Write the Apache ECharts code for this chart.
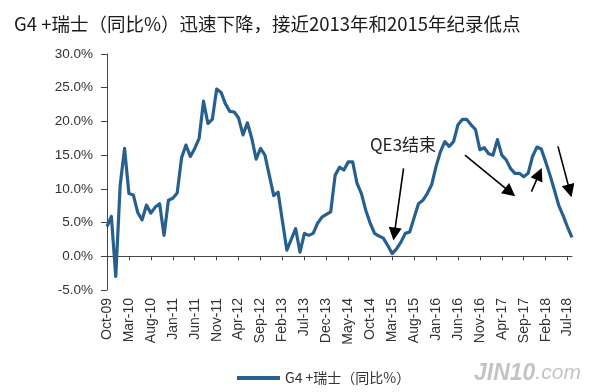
<!DOCTYPE html>
<html><head><meta charset="utf-8">
<script src="https://cdn.jsdelivr.net/npm/echarts@6/dist/echarts.min.js"></script>
<style>html,body{margin:0;padding:0;background:#fff}#c{width:600px;height:392px}</style>
</head><body><div id="c"></div>
<script>
const titleText = 'G4 +瑞士（同比%）迅速下降，接近2013年和2015年纪录低点';
const seriesName = 'G4 +瑞士（同比%）';
const categories = [
 'Oct-09','Nov-09','Dec-09',
 'Jan-10','Feb-10','Mar-10','Apr-10','May-10','Jun-10','Jul-10','Aug-10','Sep-10','Oct-10','Nov-10','Dec-10',
 'Jan-11','Feb-11','Mar-11','Apr-11','May-11','Jun-11','Jul-11','Aug-11','Sep-11','Oct-11','Nov-11','Dec-11',
 'Jan-12','Feb-12','Mar-12','Apr-12','May-12','Jun-12','Jul-12','Aug-12','Sep-12','Oct-12','Nov-12','Dec-12',
 'Jan-13','Feb-13','Mar-13','Apr-13','May-13','Jun-13','Jul-13','Aug-13','Sep-13','Oct-13','Nov-13','Dec-13',
 'Jan-14','Feb-14','Mar-14','Apr-14','May-14','Jun-14','Jul-14','Aug-14','Sep-14','Oct-14','Nov-14','Dec-14',
 'Jan-15','Feb-15','Mar-15','Apr-15','May-15','Jun-15','Jul-15','Aug-15','Sep-15','Oct-15','Nov-15','Dec-15',
 'Jan-16','Feb-16','Mar-16','Apr-16','May-16','Jun-16','Jul-16','Aug-16','Sep-16','Oct-16','Nov-16','Dec-16',
 'Jan-17','Feb-17','Mar-17','Apr-17','May-17','Jun-17','Jul-17','Aug-17','Sep-17','Oct-17','Nov-17','Dec-17',
 'Jan-18','Feb-18','Mar-18','Apr-18','May-18','Jun-18','Jul-18','Aug-18'
];
const values = [
 4.4, 5.9, -3.0,
 10.5, 16.0, 9.3, 9.1, 6.5, 5.4, 7.6, 6.4, 7.3, 7.8, 3.1, 8.3,
 8.6, 9.4, 14.6, 16.5, 14.8, 16.0, 17.5, 23.0, 19.7, 20.3, 24.8, 24.3,
 22.6, 21.5, 21.4, 20.5, 18.0, 19.8, 17.5, 14.4, 16.0, 15.0, 12.0, 9.0,
 9.5, 5.2, 0.9, 2.5, 4.1, 0.6, 3.4, 3.1, 3.4, 4.9, 5.8, 6.2,
 6.6, 12.0, 13.2, 12.8, 14.0, 14.0, 10.8, 9.3, 6.8, 4.9, 3.4, 3.0,
 2.7, 1.6, 0.4, 1.1, 2.1, 3.4, 3.6, 5.7, 7.8, 8.3, 9.3, 10.6,
 13.3, 15.5, 17.0, 16.3, 17.0, 19.5, 20.3, 20.3, 19.5, 18.8, 15.8, 16.1,
 15.2, 15.0, 17.3, 15.0, 14.3, 13.0, 12.3, 12.3, 11.8, 12.3, 14.8, 16.2,
 15.9, 14.0, 12.0, 9.8, 7.5, 6.0, 4.3, 2.8
];
const yMin = -5, yMax = 30, yStep = 5;
const annotationLabel = 'QE3结束';
// annotation arrows: [start, end] in (month index, % value)
const arrowStarts = [[67.6, 13.05], [81.6, 15.0], [96.75, 9.6], [102.8, 16.3]];
const arrowEnds   = [[65.5, 3.3],  [91.9, 9.5],  [98.5, 12.2], [105.5, 9.7]];

const chart = echarts.init(document.getElementById('c'), null, {renderer: 'canvas'});
const latin = 'Liberation Sans, Arial, sans-serif';
const cjk = '"Noto Sans CJK SC", sans-serif';
chart.setOption({
  animation: false,
  backgroundColor: '#fff',
  title: {
    text: titleText, left: 9, top: 10,
    textStyle: {fontSize: 18.5, fontWeight: 'normal', color: '#1a1a1a', fontFamily: cjk}
  },
  legend: {
    data: [seriesName], left: 232, top: 366, icon: 'rect', itemWidth: 43, itemHeight: 4,
    textStyle: {fontSize: 14, color: '#333', fontFamily: cjk}
  },
  grid: {left: 107, right: 28, top: 54, bottom: 102, containLabel: false},
  xAxis: [
    {
      type: 'category', data: categories, boundaryGap: false,
      axisLine: {onZero: true, lineStyle: {color: '#444', width: 1}},
      axisTick: {show: true, interval: 4, length: 4, lineStyle: {color: '#444'}},
      axisLabel: {show: false}, splitLine: {show: false}
    },
    {
      type: 'category', data: categories, boundaryGap: false, position: 'bottom',
      axisLine: {show: false, onZero: false}, axisTick: {show: false},
      axisLabel: {interval: 4, rotate: 90, margin: 8, fontSize: 14, color: '#333', fontFamily: latin},
      splitLine: {show: false}
    },
    {type: 'value', min: 0, max: categories.length - 1, show: false}
  ],
  yAxis: {
    type: 'value', min: yMin, max: yMax, interval: yStep,
    axisLine: {show: true, onZero: false, lineStyle: {color: '#444', width: 1}},
    axisTick: {show: true, length: 6, lineStyle: {color: '#444'}},
    axisLabel: {margin: 14, fontSize: 13.5, color: '#333', fontFamily: latin,
      formatter: v => v.toFixed(1) + '%'},
    splitLine: {show: false}
  },
  series: [
    {
      name: seriesName, type: 'line', data: values, xAxisIndex: 0, yAxisIndex: 0,
      symbol: 'none', lineStyle: {width: 3.2, color: '#27608F', join: 'round'},
      itemStyle: {color: '#27608F'}
    },
    {
      type: 'lines', coordinateSystem: 'cartesian2d', xAxisIndex: 2, yAxisIndex: 0,
      symbol: ['none', 'triangle'], symbolSize: 13, silent: true,
      lineStyle: {color: '#000', width: 1.6, opacity: 1},
      data: arrowStarts.map((s, i) => ({coords: [s, arrowEnds[i]]}))
    }
  ],
  graphic: [
    {type: 'text', left: 370, top: 136,
     style: {text: annotationLabel, font: '17px "Noto Sans CJK SC"', fill: '#222'}},
    {type: 'text', left: 474, top: 362,
     style: {rich: {a: {font: 'italic bold 23px "Liberation Sans"', fill: '#c4c4c4'},
                    b: {font: 'italic 21px "Liberation Sans"', fill: '#c4c4c4'}},
             text: '{a|JIN10}{b|.com}'}}
  ]
});
</script></body></html>
